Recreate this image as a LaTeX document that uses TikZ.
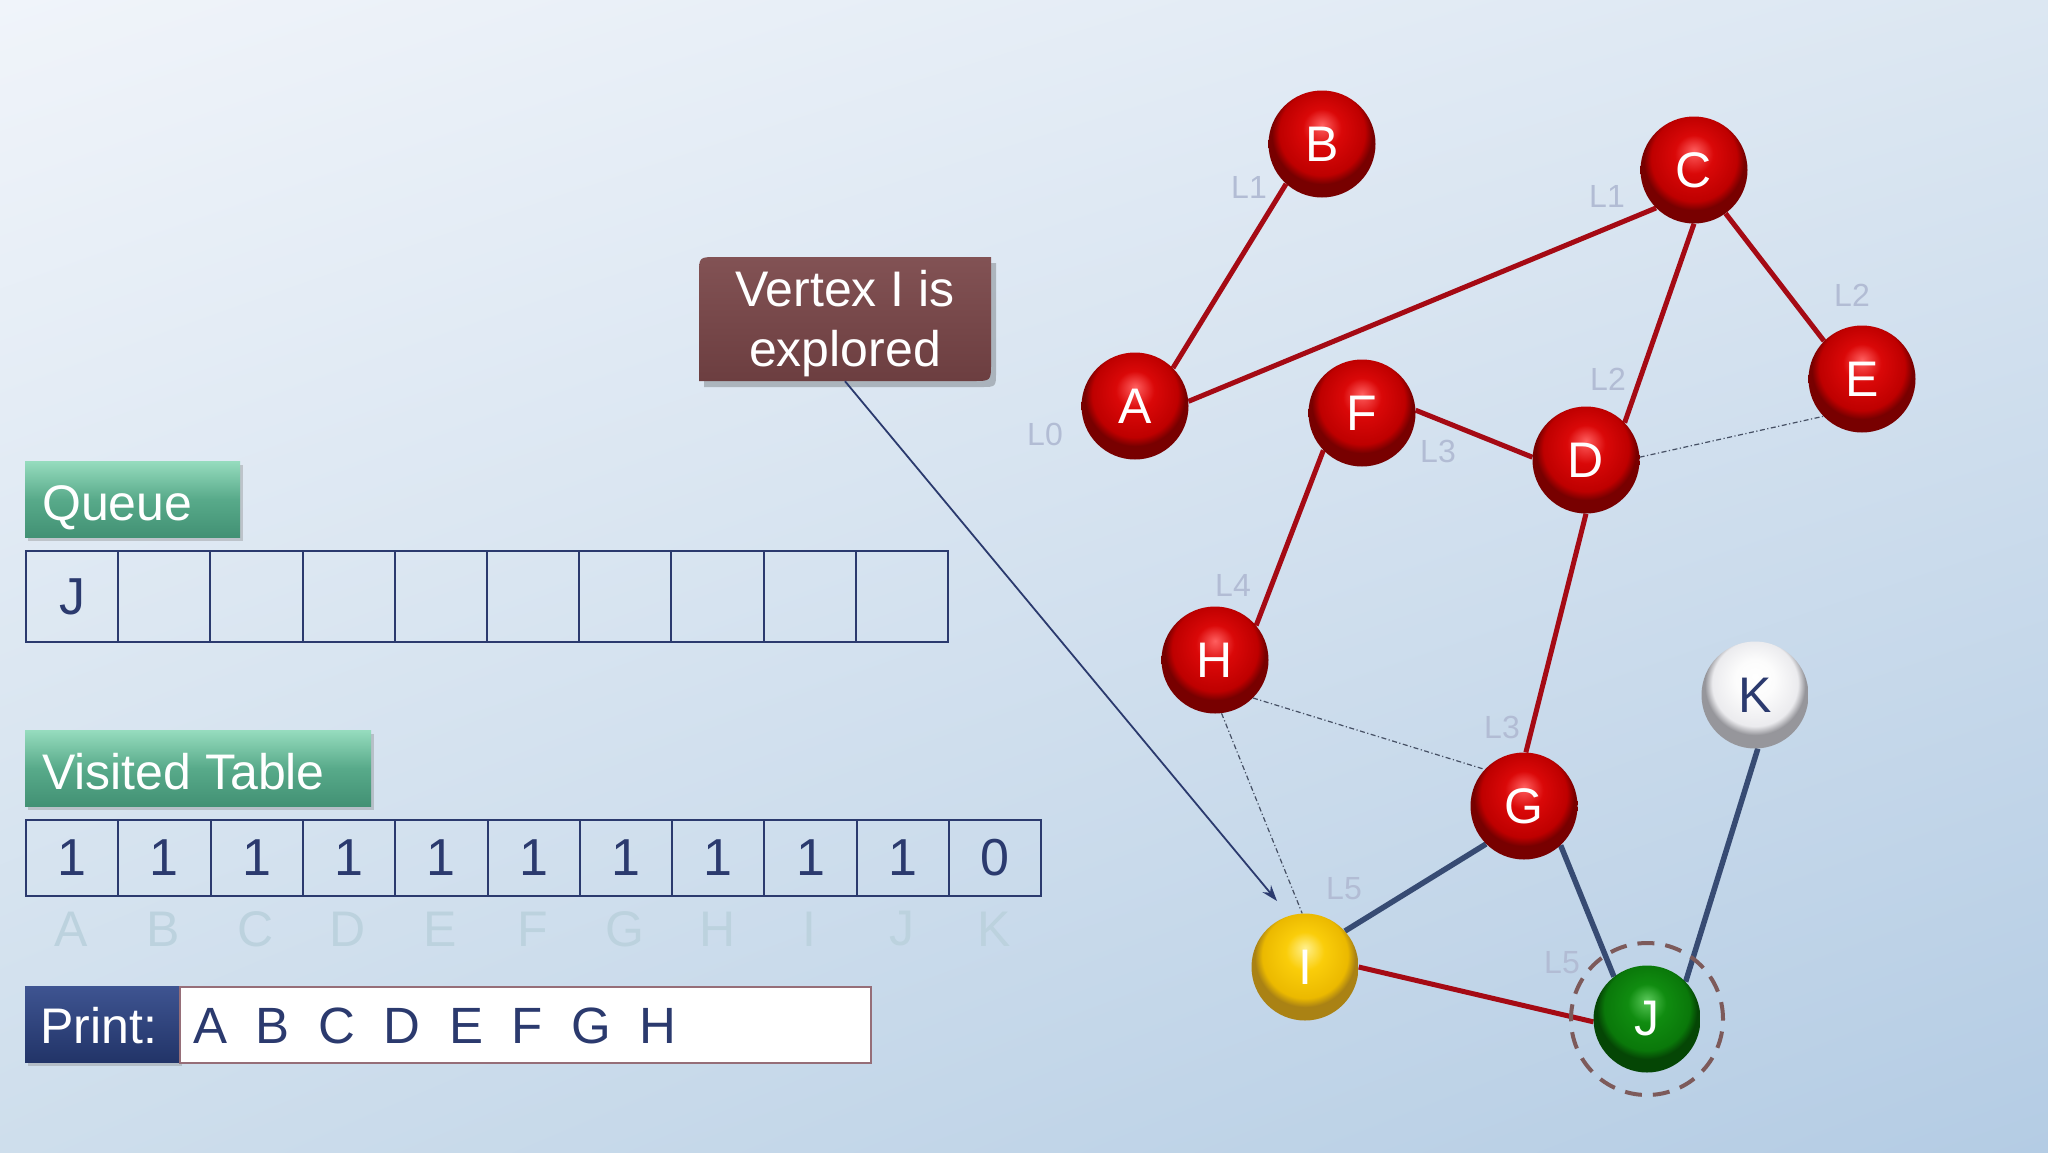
\documentclass[tikz,border=0pt]{standalone}
\usepackage{fontspec}
\setmainfont{Liberation Sans}
\usetikzlibrary{arrows.meta,shadows,shadings}
\pgfdeclarelayer{bglayer}
\pgfdeclarelayer{edgelayer}
\pgfsetlayers{bglayer,edgelayer,main}
\definecolor{bgTL}{RGB}{240,244,250}
\definecolor{bgTR}{RGB}{220,231,242}
\definecolor{bgBL}{RGB}{206,222,236}
\definecolor{bgBR}{RGB}{180,204,228}
\definecolor{navy}{RGB}{43,58,110}
\definecolor{edgered}{RGB}{165,10,20}
\definecolor{edgeslate}{RGB}{55,75,115}
\definecolor{dashgray}{RGB}{70,80,100}
\definecolor{lvl}{RGB}{178,188,212}
\definecolor{faint}{RGB}{188,210,222}
\definecolor{calloutc}{RGB}{130,82,84}
\definecolor{calloutd}{RGB}{108,62,64}
\definecolor{mintlight}{RGB}{150,220,190}
\definecolor{mintmid}{RGB}{88,170,138}
\definecolor{mintdark}{RGB}{66,145,116}
\definecolor{printlight}{RGB}{62,84,145}
\definecolor{printdark}{RGB}{34,52,104}
\definecolor{ringc}{RGB}{125,90,90}
\definecolor{printborder}{RGB}{150,110,120}
% ball colours
\definecolor{rHi}{RGB}{255,95,95}
\definecolor{rBody}{RGB}{218,8,8}
\definecolor{rDeep}{RGB}{190,0,0}
\definecolor{rRim}{RGB}{120,0,0}
\definecolor{yHi}{RGB}{255,240,140}
\definecolor{yBody}{RGB}{250,205,10}
\definecolor{yDeep}{RGB}{235,185,0}
\definecolor{yRim}{RGB}{170,130,20}
\definecolor{gHi}{RGB}{90,200,90}
\definecolor{gBody}{RGB}{16,140,16}
\definecolor{gDeep}{RGB}{10,120,10}
\definecolor{gRim}{RGB}{5,70,5}
\definecolor{wHi}{RGB}{255,255,255}
\definecolor{wBody}{RGB}{252,252,252}
\definecolor{wDeep}{RGB}{235,235,238}
\definecolor{wRim}{RGB}{150,150,155}
\pgfdeclareradialshading{redballsh}{\pgfpoint{0bp}{9bp}}{color(0bp)=(rHi); color(9bp)=(rBody); color(20bp)=(rDeep); color(23.5bp)=(rRim); color(25bp)=(rRim); color(50bp)=(rRim)}
\pgfdeclareradialshading{yellowballsh}{\pgfpoint{0bp}{9bp}}{color(0bp)=(yHi); color(9bp)=(yBody); color(20bp)=(yDeep); color(23.5bp)=(yRim); color(25bp)=(yRim); color(50bp)=(yRim)}
\pgfdeclareradialshading{greenballsh}{\pgfpoint{0bp}{9bp}}{color(0bp)=(gHi); color(9bp)=(gBody); color(20bp)=(gDeep); color(23.5bp)=(gRim); color(25bp)=(gRim); color(50bp)=(gRim)}
\pgfdeclareradialshading{whiteballsh}{\pgfpoint{0bp}{9bp}}{color(0bp)=(wHi); color(9bp)=(wBody); color(20bp)=(wDeep); color(23.5bp)=(wRim); color(25bp)=(wRim); color(50bp)=(wRim)}
\begin{document}
\begin{tikzpicture}[x=1pt,y=-1pt,
  ballnode/.style={circle, minimum size=107pt, inner sep=0pt, text=white,
    font=\fontsize{50}{50}\selectfont},
  redball/.style={ballnode, shading=redballsh},
  rededge/.style={draw=edgered, line width=5pt},
  slateedge/.style={draw=edgeslate, line width=5.5pt},
  dotedge/.style={draw=dashgray, line width=1.2pt, dash pattern=on 5pt off 2.5pt on 1.2pt off 2.5pt},
  lvllabel/.style={text=lvl, font=\fontsize{32}{32}\selectfont},
  greenbox/.style={anchor=north west, top color=mintlight, bottom color=mintdark, middle color=mintmid,
    inner sep=0pt, drop shadow={shadow xshift=3pt, shadow yshift=-4pt, opacity=0.35}},
  boxtext/.style={anchor=base west, text=white, font=\fontsize{50}{50}\selectfont, inner sep=0pt},
  cellbox/.style={draw=navy, line width=2pt, anchor=north west, inner sep=0pt,
    text=navy, font=\fontsize{52}{52}\selectfont},
  tabletter/.style={text=faint, font=\fontsize{50}{50}\selectfont},
  pointer/.style={draw=navy, line width=1.8pt, -{Stealth[length=16pt,width=11pt]}}
]
\useasboundingbox (0,0) rectangle (2048,1152);
\begin{pgfonlayer}{bglayer}
\shade[upper left=bgTL, upper right=bgTR, lower left=bgBL, lower right=bgBR] (0,0) rectangle (2048,1152);
\end{pgfonlayer}

% ---------- graph nodes ----------
\node[redball] (A) at (1135,406) {A};
\node[redball] (B) at (1322,144) {B};
\node[redball] (C) at (1694,170) {C};
\node[redball] (E) at (1862,379) {E};
\node[redball] (F) at (1362,413) {F};
\node[redball] (D) at (1586,460) {D};
\node[redball] (H) at (1215,660) {H};
\node[redball] (G) at (1524,806) {G};
\node[ballnode, shading=whiteballsh, text=navy] (K) at (1755,695) {K};
\node[ballnode, shading=yellowballsh] (I) at (1305,967) {I};
\node[ballnode, shading=greenballsh] (J) at (1647,1019) {J};
\node[circle, draw=ringc, line width=4pt, dash pattern=on 17pt off 11pt, minimum size=152pt] (Jring) at (J) {};

% ---------- edges ----------
\begin{pgfonlayer}{edgelayer}
\draw[rededge] (A.45) -- (B.228);
\draw[rededge] (A.5) -- (C.225);
\draw[rededge] (C.270) -- (D.44);
\draw[rededge] (C.306) -- (E.135);
\draw[rededge] (F.3) -- (D.177);
\draw[rededge] (F.224) -- (H.40);
\draw[rededge] (D.270) -- (G.88);
\draw[rededge] (I.0) -- (J.183);
\draw[slateedge] (G.225) -- (I.42);
\draw[slateedge] (G.313) -- (J.128);
\draw[slateedge] (K.273) -- (J.44);
\draw[dotedge] (D.3) -- (E.224);
\draw[dotedge] (H.315) -- (G.137);
\draw[dotedge] (H.277) -- (I.93);
\end{pgfonlayer}

% ---------- level labels ----------
\node[lvllabel] (lB) at (1249,187) {L1};
\node[lvllabel] (lC) at (1607,196) {L1};
\node[lvllabel] (lE) at (1852,295) {L2};
\node[lvllabel] (lD) at (1608,379) {L2};
\node[lvllabel] (lA) at (1045,434) {L0};
\node[lvllabel] (lF) at (1438,451) {L3};
\node[lvllabel] (lH) at (1233,585) {L4};
\node[lvllabel] (lG) at (1502,727) {L3};
\node[lvllabel] (lI) at (1344,889) {L5};
\node[lvllabel] (lJ) at (1562,963) {L5};

% ---------- callout ----------
\fill[black, opacity=0.22] (704,387) -- (704,278) .. controls (704,263) .. (719,263) -- (996,263) -- (996,372) .. controls (996,387) .. (981,387) -- cycle;
\shade[top color=calloutc, bottom color=calloutd] (699,381) -- (699,275) .. controls (699,257) .. (717,257) -- (991,257) -- (991,363) .. controls (991,381) .. (973,381) -- cycle;
\node[minimum width=292pt, minimum height=124pt, inner sep=0pt] (callout) at (845,319) {};
\node[text=white, align=center, font=\fontsize{50}{60}\selectfont, inner sep=0pt] (callouttext) at (845,324) {Vertex I is\\explored};
\coordinate (arrowtip) at (1277,901);
\draw[pointer] (callout.south) -- (arrowtip);

% ---------- queue ----------
\node[greenbox, minimum width=215pt, minimum height=76pt] (queuebox) at (25,461) {};
\node[boxtext] (queuelabel) at (42,520) {Queue};
\foreach \i in {0,...,9} {
  \node[cellbox, minimum width=92.2pt, minimum height=91pt] (q\i) at ({25+\i*92.2},550) {};
}
\node[text=navy, font=\fontsize{52}{52}\selectfont] (qJ) at (q0) {J};

% ---------- visited table ----------
\node[greenbox, minimum width=346pt, minimum height=76pt] (visitedbox) at (25,730) {};
\node[boxtext] (visitedlabel) at (42,789) {Visited Table};
\foreach \i/\v/\l in {0/1/A,1/1/B,2/1/C,3/1/D,4/1/E,5/1/F,6/1/G,7/1/H,8/1/I,9/1/J,10/0/K} {
  \node[cellbox, minimum width=92.3pt, minimum height=76pt] (v\i) at ({25+\i*92.3},819) {\v};
  \node[tabletter] (t\i) at ({71+\i*92.3},929) {\l};
}

% ---------- print ----------
\node[anchor=north west, top color=printlight, bottom color=printdark, inner sep=0pt,
  minimum width=154pt, minimum height=76pt,
  drop shadow={shadow xshift=3pt, shadow yshift=-4pt, opacity=0.35}] (printbox) at (25,986) {};
\node[boxtext] (printlabel) at (40,1043) {Print:};
\node[anchor=north west, fill=white, draw=printborder, line width=1.5pt, minimum width=691pt, minimum height=76pt] (printfield) at (179,986) {};
\node[anchor=base west, inner sep=0pt, text=navy, font=\fontsize{51}{51}\selectfont] (printtext) at (193,1043) {\spaceskip=0.56em\relax A B C D E F G H};
\end{tikzpicture}
\end{document}
